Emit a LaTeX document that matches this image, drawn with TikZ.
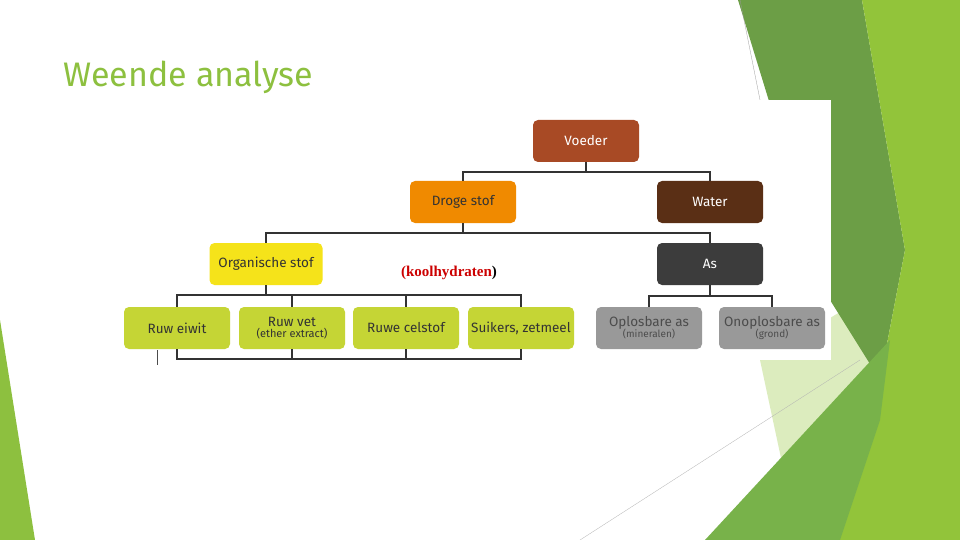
\documentclass[tikz,border=0pt]{standalone}
\usepackage{fontspec}
\setmainfont{Fira Sans}
\newfontfamily\serifkool{Liberation Serif}
\begin{document}
\begin{tikzpicture}[x=1pt,y=-1pt,
 box/.style={rounded corners=5pt,minimum width=106pt,minimum height=42pt,inner sep=1pt,align=center,font=\fontsize{13.5}{14}\selectfont},
 ln/.style={draw=black!80,line width=1.8pt}]
\useasboundingbox (0,0) rectangle (960,540);
\fill[white] (0,0) rectangle (960,540);
% background shapes
\fill[color={rgb,255:red,220;green,236;blue,190}] (760,360) -- (860,300) -- (880,420) -- (790,500) -- cycle;
\fill[color={rgb,255:red,108;green,158;blue,70}] (738,0) -- (862,0) -- (905,250) -- (880,380) -- (830,300) -- cycle;
\fill[color={rgb,255:red,146;green,196;blue,58}] (862,0) -- (960,0) -- (960,540) -- (820,540) -- (880,380) -- (905,250) -- cycle;
\fill[color={rgb,255:red,120;green,178;blue,74}] (705,540) -- (890,340) -- (880,420) -- (840,540) -- cycle;
\fill[color={rgb,255:red,141;green,192;blue,63}] (0,320) -- (35,540) -- (0,540) -- cycle;
\draw[black!40,line width=0.3pt] (740,0) -- (760,100);
\draw[black!30,line width=0.3pt] (580,540) -- (860,360);
\fill[white] (118,100) rectangle (831,360);
\node[anchor=base west,text={rgb,255:red,141;green,192;blue,63},font=\fontsize{34}{36}\selectfont] (title) at (60,87) {Weende analyse};
% boxes
\node[box,fill={rgb,255:red,168;green,74;blue,37},text=white] (voeder) at (586,141) {Voeder};
\node[box,fill={rgb,255:red,240;green,138;blue,0},text=black!80] (droge) at (463,202) {Droge stof};
\node[box,fill={rgb,255:red,90;green,47;blue,21},text=white] (water) at (710,202) {Water};
\node[box,minimum width=113pt,fill={rgb,255:red,245;green,227;blue,26},text=black!80] (org) at (266,264) {Organische stof};
\node[box,fill={rgb,255:red,60;green,60;blue,60},text=white] (as) at (710,264) {As};
\node[box,fill={rgb,255:red,197;green,213;blue,53},text=black!80] (eiwit) at (177,328) {Ruw eiwit};
\node[box,fill={rgb,255:red,197;green,213;blue,53},text=black!80] (vet) at (292,328) {Ruw vet\\[-3pt]{\fontsize{11}{12}\selectfont(ether extract)}};
\node[box,fill={rgb,255:red,197;green,213;blue,53},text=black!80] (cel) at (406,328) {Ruwe celstof};
\node[box,fill={rgb,255:red,197;green,213;blue,53},text=black!80] (suik) at (521,328) {Suikers, zetmeel};
\node[box,fill={rgb,255:red,153;green,153;blue,153},text=black!70] (opl) at (649,328) {Oplosbare as\\[-3pt]{\fontsize{10}{11}\selectfont(mineralen)}};
\node[box,fill={rgb,255:red,153;green,153;blue,153},text=black!70] (onopl) at (772,328) {Onoplosbare as\\[-3pt]{\fontsize{10}{11}\selectfont(grond)}};
\node[font=\serifkool\bfseries\fontsize{15}{16}\selectfont] (kool) at (449,273) {\textcolor{red!80!black}{(koolhydraten}\textcolor{black})};
% connectors
\draw[ln] (voeder.south) -- ++(0,10) -| (droge.north);
\draw[ln] (voeder.south) ++(0,10) -| (water.north);
\draw[ln] (droge.south) -- ++(0,10) -| (org.north);
\draw[ln] (droge.south) ++(0,10) -| (as.north);
\draw[ln] (org.south) -- ++(0,10) -| (eiwit.north);
\draw[ln] (org.south) ++(0,10) -| (suik.north);
\draw[ln] (vet.north) -- ++(0,-12);
\draw[ln] (cel.north) -- ++(0,-12);
\draw[ln] (eiwit.south) -- ++(0,10) -| (suik.south);
\draw[ln] (vet.south) -- ++(0,10);
\draw[ln] (cel.south) -- ++(0,10);
\draw[ln] (as.south) -- ++(0,11) -| (opl.north);
\draw[ln] (as.south) ++(0,11) -| (onopl.north);
\coordinate (s1) at (157,350);
\draw[black!70,line width=0.8pt] (s1) -- ++(0,15);
\end{tikzpicture}
\end{document}
